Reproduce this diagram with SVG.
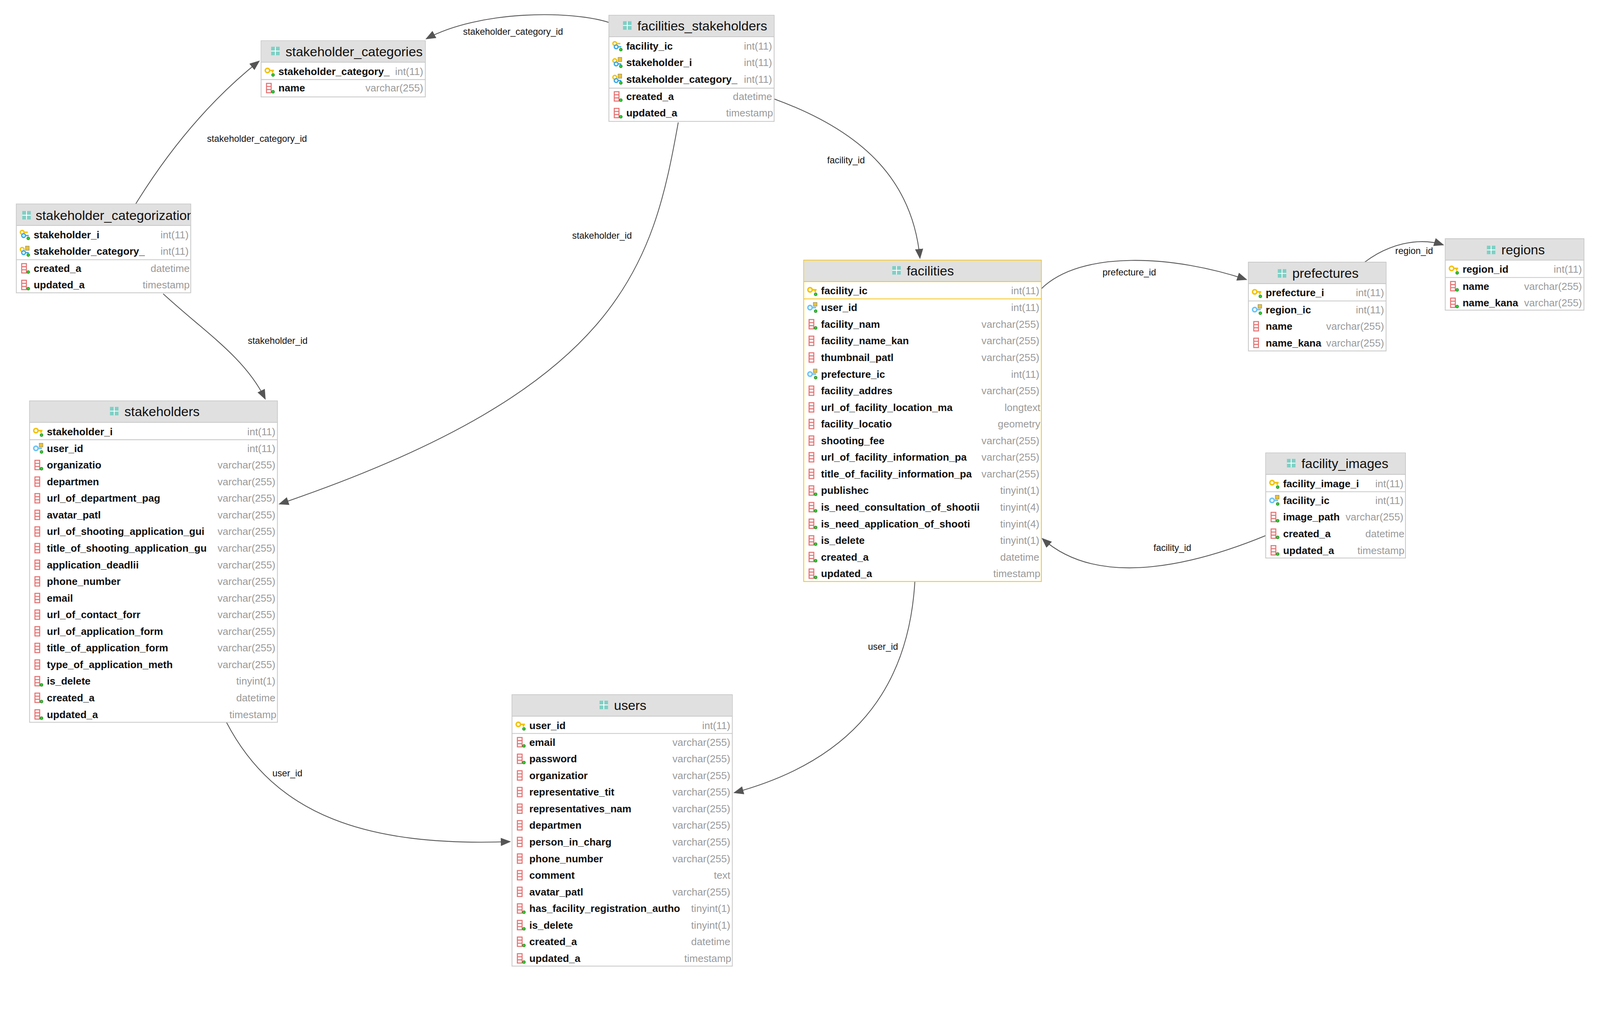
<svg xmlns="http://www.w3.org/2000/svg" xmlns:xlink="http://www.w3.org/1999/xlink" width="4246" height="2608" viewBox="0 0 4246 2608">
<style>
.n{font-family:"Liberation Sans",Arial,sans-serif;font-weight:bold;font-size:10px;fill:#111}
.t{font-family:"Liberation Sans",Arial,sans-serif;font-size:10px;fill:#9a9a9a;text-anchor:end}
.h{font-family:"Liberation Sans",Arial,sans-serif;font-size:13px;fill:#111}
.lb{font-family:"Liberation Sans",Arial,sans-serif;font-size:9px;fill:#111}
.box{fill:#fff;stroke:#c8c8c8;stroke-width:0.8}
.boxs{fill:#fff;stroke:#f5c518;stroke-width:0.8}
.hd{fill:#e0e0e0}
.dv{stroke:#c8c8c8;stroke-width:0.8}
.dvs{stroke:#f5c518;stroke-width:0.8}
.c{fill:none;stroke:#555;stroke-width:0.8}
</style>
<defs>
<marker id="ar" viewBox="0 0 10 10" refX="9" refY="5" markerWidth="10" markerHeight="10" markerUnits="userSpaceOnUse" orient="auto"><path d="M0,1 L10,5 L0,9 z" fill="#555"/></marker>
<symbol id="tb" viewBox="0 0 12 12"><rect x="1" y="1" width="10" height="10" fill="#7fcfc4"/><path d="M1,6H11M6,1V11" stroke="#fff" stroke-width="1"/></symbol>
<symbol id="pk" viewBox="0 0 12 12"><circle cx="3.5" cy="5" r="2.3" fill="none" stroke="#f2c200" stroke-width="1.6"/><path d="M5.8,5H10.5M9,5V7.5" stroke="#f2c200" stroke-width="1.6"/><circle cx="9.5" cy="9.8" r="1.6" fill="#3c3" stroke="#060" stroke-width="0.4"/></symbol>
<symbol id="fk" viewBox="0 0 12 12"><circle cx="3.5" cy="6" r="2.3" fill="none" stroke="#6cc4f4" stroke-width="1.6"/><path d="M5.8,6H10" stroke="#6cc4f4" stroke-width="1.6"/><rect x="7" y="0.5" width="4" height="4" fill="#e8c23a" stroke="#776" stroke-width="0.4"/><circle cx="9.5" cy="9.8" r="1.6" fill="#3c3" stroke="#060" stroke-width="0.4"/></symbol>
<symbol id="pf" viewBox="0 0 12 12"><circle cx="3" cy="3.5" r="2" fill="none" stroke="#f2c200" stroke-width="1.4"/><path d="M5,3.5H9" stroke="#f2c200" stroke-width="1.4"/><circle cx="4.5" cy="7" r="2" fill="none" stroke="#3aa8e8" stroke-width="1.4"/><path d="M6.5,7H10" stroke="#3aa8e8" stroke-width="1.4"/><circle cx="9.5" cy="10" r="1.6" fill="#3c3" stroke="#060" stroke-width="0.4"/></symbol>
<symbol id="pff" viewBox="0 0 12 12"><circle cx="3" cy="4" r="2" fill="none" stroke="#f2c200" stroke-width="1.4"/><circle cx="4.5" cy="7.5" r="2" fill="none" stroke="#3aa8e8" stroke-width="1.4"/><path d="M6.5,7.5H10" stroke="#3aa8e8" stroke-width="1.4"/><rect x="6.5" y="0.5" width="4" height="4.5" fill="#e8c23a" stroke="#776" stroke-width="0.4"/><circle cx="9.5" cy="10" r="1.6" fill="#3c3" stroke="#060" stroke-width="0.4"/></symbol>
<symbol id="col" viewBox="0 0 12 12"><rect x="2.5" y="1" width="5" height="10" fill="none" stroke="#e57373" stroke-width="1.1"/><path d="M2.5,4.3H7.5M2.5,7.6H7.5" stroke="#e57373" stroke-width="1.1"/></symbol>
<symbol id="cold" viewBox="0 0 12 12"><rect x="2.5" y="1" width="5" height="10" fill="none" stroke="#e57373" stroke-width="1.1"/><path d="M2.5,4.3H7.5M2.5,7.6H7.5" stroke="#e57373" stroke-width="1.1"/><circle cx="9.5" cy="10" r="1.6" fill="#3c3" stroke="#060" stroke-width="0.4"/></symbol>
<clipPath id="cc"><rect x="0" y="0" width="171" height="21"/></clipPath>
</defs>
<rect width="4246" height="2608" fill="#fff"/>
<g transform="scale(2.611)">
<g id="connectors">
<path class="c" marker-end="url(#ar)" d="M597,22 C560,10 470,10 418,38"/>
<path class="c" marker-end="url(#ar)" d="M133,200 C170,140 210,95 254,60"/>
<path class="c" marker-end="url(#ar)" d="M160,288 C200,325 240,350 260,391"/>
<path class="c" marker-end="url(#ar)" d="M665,120 C640,260 610,380 274,494"/>
<path class="c" marker-end="url(#ar)" d="M759,97 C850,130 895,180 902,253"/>
<path class="c" marker-end="url(#ar)" d="M1021,283 C1060,245 1150,250 1222,274"/>
<path class="c" marker-end="url(#ar)" d="M1338,257 C1360,240 1390,232 1415,240"/>
<path class="c" marker-end="url(#ar)" d="M1241,525 C1180,550 1080,580 1022,528"/>
<path class="c" marker-end="url(#ar)" d="M897,570 C890,690 820,750 720,777"/>
<path class="c" marker-end="url(#ar)" d="M222,708 C270,800 360,830 500,825"/>
<text class="lb" x="454" y="34">stakeholder_category_id</text>
<text class="lb" x="203" y="139">stakeholder_category_id</text>
<text class="lb" x="243" y="337">stakeholder_id</text>
<text class="lb" x="561" y="234">stakeholder_id</text>
<text class="lb" x="811" y="160">facility_id</text>
<text class="lb" x="1081" y="270">prefecture_id</text>
<text class="lb" x="1368" y="249">region_id</text>
<text class="lb" x="1131" y="540">facility_id</text>
<text class="lb" x="851" y="637">user_id</text>
<text class="lb" x="267" y="761">user_id</text>
</g>

<g id="stakeholder_categories" transform="translate(256,40)">
<rect class="box" width="161" height="55"/><rect class="hd" x="0.4" y="0.4" width="160.2" height="20.6"/>
<use href="#tb" x="9" y="5" width="10" height="10"/><text class="h" x="24" y="15">stakeholder_categories</text>
<line class="dv" x1="0" y1="21" x2="161" y2="21"/><line class="dv" x1="0" y1="38" x2="161" y2="38"/>
<use href="#pk" x="3" y="24.5" width="11" height="11"/><text class="n" x="17" y="33.5">stakeholder_category_</text><text class="t" x="159" y="33.5">int(11)</text>
<use href="#cold" x="3" y="40.8" width="11" height="11"/><text class="n" x="17" y="49.8">name</text><text class="t" x="159" y="49.8">varchar(255)</text>
</g>

<g id="facilities_stakeholders" transform="translate(597,15)">
<rect class="box" width="162" height="104"/><rect class="hd" x="0.4" y="0.4" width="161.2" height="20.6"/>
<use href="#tb" x="13" y="5" width="10" height="10"/><text class="h" x="28" y="15">facilities_stakeholders</text>
<line class="dv" x1="0" y1="21" x2="162" y2="21"/><line class="dv" x1="0" y1="71.4" x2="162" y2="71.4"/>
<use href="#pf" x="3" y="24.5" width="11" height="11"/><text class="n" x="17" y="33.5">facility_ic</text><text class="t" x="160" y="33.5">int(11)</text>
<use href="#pff" x="3" y="40.8" width="11" height="11"/><text class="n" x="17" y="49.8">stakeholder_i</text><text class="t" x="160" y="49.8">int(11)</text>
<use href="#pff" x="3" y="57.1" width="11" height="11"/><text class="n" x="17" y="66.1">stakeholder_category_</text><text class="t" x="160" y="66.1">int(11)</text>
<use href="#cold" x="3" y="74" width="11" height="11"/><text class="n" x="17" y="83">created_a</text><text class="t" x="160" y="83">datetime</text>
<use href="#cold" x="3" y="90.3" width="11" height="11"/><text class="n" x="17" y="99.3">updated_a</text><text class="t" x="161" y="99.3">timestamp</text>
</g>

<g id="stakeholder_categorization" transform="translate(16,200)">
<rect class="box" width="171" height="87"/><rect class="hd" x="0.4" y="0.4" width="170.2" height="20.6"/>
<use href="#tb" x="5" y="6" width="10" height="10"/><g clip-path="url(#cc)"><text class="h" x="19" y="15.5">stakeholder_categorization</text></g>
<line class="dv" x1="0" y1="21" x2="171" y2="21"/><line class="dv" x1="0" y1="54.6" x2="171" y2="54.6"/>
<use href="#pf" x="3" y="24.5" width="11" height="11"/><text class="n" x="17" y="33.5">stakeholder_i</text><text class="t" x="169" y="33.5">int(11)</text>
<use href="#pff" x="3" y="40.8" width="11" height="11"/><text class="n" x="17" y="49.8">stakeholder_category_</text><text class="t" x="169" y="49.8">int(11)</text>
<use href="#cold" x="3" y="57.5" width="11" height="11"/><text class="n" x="17" y="66.5">created_a</text><text class="t" x="170" y="66.5">datetime</text>
<use href="#cold" x="3" y="73.8" width="11" height="11"/><text class="n" x="17" y="82.8">updated_a</text><text class="t" x="170" y="82.8">timestamp</text>
</g>

<g id="stakeholders" transform="translate(29,393)">
<rect class="box" width="243" height="315"/><rect class="hd" x="0.4" y="0.4" width="242.2" height="20.6"/>
<use href="#tb" x="78" y="5" width="10" height="10"/><text class="h" x="93" y="15">stakeholders</text>
<line class="dv" x1="0" y1="21" x2="243" y2="21"/><line class="dv" x1="0" y1="38" x2="243" y2="38"/>
<use href="#pk" x="3" y="24.5" width="11" height="11"/><text class="n" x="17" y="33.5">stakeholder_i</text><text class="t" x="241" y="33.5">int(11)</text>
<use href="#fk" x="3" y="41" width="11" height="11"/><text class="n" x="17" y="50">user_id</text><text class="t" x="241" y="50">int(11)</text>
<use href="#cold" x="3" y="57.3" width="11" height="11"/><text class="n" x="17" y="66.3">organizatio</text><text class="t" x="241" y="66.3">varchar(255)</text>
<use href="#col" x="3" y="73.6" width="11" height="11"/><text class="n" x="17" y="82.6">departmen</text><text class="t" x="241" y="82.6">varchar(255)</text>
<use href="#col" x="3" y="89.9" width="11" height="11"/><text class="n" x="17" y="98.9">url_of_department_pag</text><text class="t" x="241" y="98.9">varchar(255)</text>
<use href="#col" x="3" y="106.2" width="11" height="11"/><text class="n" x="17" y="115.2">avatar_patl</text><text class="t" x="241" y="115.2">varchar(255)</text>
<use href="#col" x="3" y="122.5" width="11" height="11"/><text class="n" x="17" y="131.5">url_of_shooting_application_gui</text><text class="t" x="241" y="131.5">varchar(255)</text>
<use href="#col" x="3" y="138.8" width="11" height="11"/><text class="n" x="17" y="147.8">title_of_shooting_application_gu</text><text class="t" x="241" y="147.8">varchar(255)</text>
<use href="#col" x="3" y="155.1" width="11" height="11"/><text class="n" x="17" y="164.1">application_deadlii</text><text class="t" x="241" y="164.1">varchar(255)</text>
<use href="#col" x="3" y="171.4" width="11" height="11"/><text class="n" x="17" y="180.4">phone_number</text><text class="t" x="241" y="180.4">varchar(255)</text>
<use href="#col" x="3" y="187.7" width="11" height="11"/><text class="n" x="17" y="196.7">email</text><text class="t" x="241" y="196.7">varchar(255)</text>
<use href="#col" x="3" y="204" width="11" height="11"/><text class="n" x="17" y="213">url_of_contact_forr</text><text class="t" x="241" y="213">varchar(255)</text>
<use href="#col" x="3" y="220.3" width="11" height="11"/><text class="n" x="17" y="229.3">url_of_application_form</text><text class="t" x="241" y="229.3">varchar(255)</text>
<use href="#col" x="3" y="236.6" width="11" height="11"/><text class="n" x="17" y="245.6">title_of_application_form</text><text class="t" x="241" y="245.6">varchar(255)</text>
<use href="#col" x="3" y="252.9" width="11" height="11"/><text class="n" x="17" y="261.9">type_of_application_meth</text><text class="t" x="241" y="261.9">varchar(255)</text>
<use href="#cold" x="3" y="269.2" width="11" height="11"/><text class="n" x="17" y="278.2">is_delete</text><text class="t" x="241" y="278.2">tinyint(1)</text>
<use href="#cold" x="3" y="285.5" width="11" height="11"/><text class="n" x="17" y="294.5">created_a</text><text class="t" x="241" y="294.5">datetime</text>
<use href="#cold" x="3" y="301.8" width="11" height="11"/><text class="n" x="17" y="310.8">updated_a</text><text class="t" x="242" y="310.8">timestamp</text>
</g>

<g id="facilities" transform="translate(788,255)">
<rect class="boxs" width="233" height="315"/><rect class="hd" x="0.4" y="0.4" width="232.2" height="20.6"/>
<use href="#tb" x="86" y="5" width="10" height="10"/><text class="h" x="101" y="15">facilities</text>
<line class="dvs" x1="0" y1="21" x2="233" y2="21"/><line class="dvs" x1="0" y1="38" x2="233" y2="38"/>
<use href="#pk" x="3" y="24.5" width="11" height="11"/><text class="n" x="17" y="33.5">facility_ic</text><text class="t" x="231" y="33.5">int(11)</text>
<use href="#fk" x="3" y="41" width="11" height="11"/><text class="n" x="17" y="50">user_id</text><text class="t" x="231" y="50">int(11)</text>
<use href="#cold" x="3" y="57.3" width="11" height="11"/><text class="n" x="17" y="66.3">facility_nam</text><text class="t" x="231" y="66.3">varchar(255)</text>
<use href="#col" x="3" y="73.6" width="11" height="11"/><text class="n" x="17" y="82.6">facility_name_kan</text><text class="t" x="231" y="82.6">varchar(255)</text>
<use href="#col" x="3" y="89.9" width="11" height="11"/><text class="n" x="17" y="98.9">thumbnail_patl</text><text class="t" x="231" y="98.9">varchar(255)</text>
<use href="#fk" x="3" y="106.2" width="11" height="11"/><text class="n" x="17" y="115.2">prefecture_ic</text><text class="t" x="231" y="115.2">int(11)</text>
<use href="#col" x="3" y="122.5" width="11" height="11"/><text class="n" x="17" y="131.5">facility_addres</text><text class="t" x="231" y="131.5">varchar(255)</text>
<use href="#col" x="3" y="138.8" width="11" height="11"/><text class="n" x="17" y="147.8">url_of_facility_location_ma</text><text class="t" x="232" y="147.8">longtext</text>
<use href="#col" x="3" y="155.1" width="11" height="11"/><text class="n" x="17" y="164.1">facility_locatio</text><text class="t" x="232" y="164.1">geometry</text>
<use href="#col" x="3" y="171.4" width="11" height="11"/><text class="n" x="17" y="180.4">shooting_fee</text><text class="t" x="231" y="180.4">varchar(255)</text>
<use href="#col" x="3" y="187.7" width="11" height="11"/><text class="n" x="17" y="196.7">url_of_facility_information_pa</text><text class="t" x="231" y="196.7">varchar(255)</text>
<use href="#col" x="3" y="204" width="11" height="11"/><text class="n" x="17" y="213">title_of_facility_information_pa</text><text class="t" x="231" y="213">varchar(255)</text>
<use href="#cold" x="3" y="220.3" width="11" height="11"/><text class="n" x="17" y="229.3">publishec</text><text class="t" x="231" y="229.3">tinyint(1)</text>
<use href="#cold" x="3" y="236.6" width="11" height="11"/><text class="n" x="17" y="245.6">is_need_consultation_of_shootii</text><text class="t" x="231" y="245.6">tinyint(4)</text>
<use href="#cold" x="3" y="252.9" width="11" height="11"/><text class="n" x="17" y="261.9">is_need_application_of_shooti</text><text class="t" x="231" y="261.9">tinyint(4)</text>
<use href="#cold" x="3" y="269.2" width="11" height="11"/><text class="n" x="17" y="278.2">is_delete</text><text class="t" x="231" y="278.2">tinyint(1)</text>
<use href="#cold" x="3" y="285.5" width="11" height="11"/><text class="n" x="17" y="294.5">created_a</text><text class="t" x="231" y="294.5">datetime</text>
<use href="#cold" x="3" y="301.8" width="11" height="11"/><text class="n" x="17" y="310.8">updated_a</text><text class="t" x="232" y="310.8">timestamp</text>
</g>

<g id="prefectures" transform="translate(1224,257)">
<rect class="box" width="135" height="87"/><rect class="hd" x="0.4" y="0.4" width="134.2" height="20.6"/>
<use href="#tb" x="28" y="6" width="10" height="10"/><text class="h" x="43" y="15.5">prefectures</text>
<line class="dv" x1="0" y1="21" x2="135" y2="21"/><line class="dv" x1="0" y1="38" x2="135" y2="38"/>
<use href="#pk" x="3" y="24.5" width="11" height="11"/><text class="n" x="17" y="33.5">prefecture_i</text><text class="t" x="133" y="33.5">int(11)</text>
<use href="#fk" x="3" y="41" width="11" height="11"/><text class="n" x="17" y="50">region_ic</text><text class="t" x="133" y="50">int(11)</text>
<use href="#col" x="3" y="57.3" width="11" height="11"/><text class="n" x="17" y="66.3">name</text><text class="t" x="133" y="66.3">varchar(255)</text>
<use href="#col" x="3" y="73.6" width="11" height="11"/><text class="n" x="17" y="82.6">name_kana</text><text class="t" x="133" y="82.6">varchar(255)</text>
</g>

<g id="regions" transform="translate(1417,234)">
<rect class="box" width="136" height="70"/><rect class="hd" x="0.4" y="0.4" width="135.2" height="20.6"/>
<use href="#tb" x="40" y="6" width="10" height="10"/><text class="h" x="55" y="15.5">regions</text>
<line class="dv" x1="0" y1="21" x2="136" y2="21"/><line class="dv" x1="0" y1="38" x2="136" y2="38"/>
<use href="#pk" x="3" y="24.5" width="11" height="11"/><text class="n" x="17" y="33.5">region_id</text><text class="t" x="134" y="33.5">int(11)</text>
<use href="#cold" x="3" y="41" width="11" height="11"/><text class="n" x="17" y="50">name</text><text class="t" x="134" y="50">varchar(255)</text>
<use href="#cold" x="3" y="57.3" width="11" height="11"/><text class="n" x="17" y="66.3">name_kana</text><text class="t" x="134" y="66.3">varchar(255)</text>
</g>

<g id="facility_images" transform="translate(1241,444)">
<rect class="box" width="137" height="103"/><rect class="hd" x="0.4" y="0.4" width="136.2" height="20.6"/>
<use href="#tb" x="20" y="5" width="10" height="10"/><text class="h" x="35" y="15">facility_images</text>
<line class="dv" x1="0" y1="21" x2="137" y2="21"/><line class="dv" x1="0" y1="38" x2="137" y2="38"/>
<use href="#pk" x="3" y="24.5" width="11" height="11"/><text class="n" x="17" y="33.5">facility_image_i</text><text class="t" x="135" y="33.5">int(11)</text>
<use href="#fk" x="3" y="41" width="11" height="11"/><text class="n" x="17" y="50">facility_ic</text><text class="t" x="135" y="50">int(11)</text>
<use href="#cold" x="3" y="57.3" width="11" height="11"/><text class="n" x="17" y="66.3">image_path</text><text class="t" x="135" y="66.3">varchar(255)</text>
<use href="#cold" x="3" y="73.6" width="11" height="11"/><text class="n" x="17" y="82.6">created_a</text><text class="t" x="136" y="82.6">datetime</text>
<use href="#cold" x="3" y="89.9" width="11" height="11"/><text class="n" x="17" y="98.9">updated_a</text><text class="t" x="136" y="98.9">timestamp</text>
</g>

<g id="users" transform="translate(502,681)">
<rect class="box" width="216" height="266"/><rect class="hd" x="0.4" y="0.4" width="215.2" height="20.6"/>
<use href="#tb" x="85" y="5" width="10" height="10"/><text class="h" x="100" y="15">users</text>
<line class="dv" x1="0" y1="21" x2="216" y2="21"/><line class="dv" x1="0" y1="38" x2="216" y2="38"/>
<use href="#pk" x="3" y="24.5" width="11" height="11"/><text class="n" x="17" y="33.5">user_id</text><text class="t" x="214" y="33.5">int(11)</text>
<use href="#cold" x="3" y="41" width="11" height="11"/><text class="n" x="17" y="50">email</text><text class="t" x="214" y="50">varchar(255)</text>
<use href="#cold" x="3" y="57.3" width="11" height="11"/><text class="n" x="17" y="66.3">password</text><text class="t" x="214" y="66.3">varchar(255)</text>
<use href="#col" x="3" y="73.6" width="11" height="11"/><text class="n" x="17" y="82.6">organizatior</text><text class="t" x="214" y="82.6">varchar(255)</text>
<use href="#col" x="3" y="89.9" width="11" height="11"/><text class="n" x="17" y="98.9">representative_tit</text><text class="t" x="214" y="98.9">varchar(255)</text>
<use href="#col" x="3" y="106.2" width="11" height="11"/><text class="n" x="17" y="115.2">representatives_nam</text><text class="t" x="214" y="115.2">varchar(255)</text>
<use href="#col" x="3" y="122.5" width="11" height="11"/><text class="n" x="17" y="131.5">departmen</text><text class="t" x="214" y="131.5">varchar(255)</text>
<use href="#col" x="3" y="138.8" width="11" height="11"/><text class="n" x="17" y="147.8">person_in_charg</text><text class="t" x="214" y="147.8">varchar(255)</text>
<use href="#col" x="3" y="155.1" width="11" height="11"/><text class="n" x="17" y="164.1">phone_number</text><text class="t" x="214" y="164.1">varchar(255)</text>
<use href="#col" x="3" y="171.4" width="11" height="11"/><text class="n" x="17" y="180.4">comment</text><text class="t" x="214" y="180.4">text</text>
<use href="#col" x="3" y="187.7" width="11" height="11"/><text class="n" x="17" y="196.7">avatar_patl</text><text class="t" x="214" y="196.7">varchar(255)</text>
<use href="#cold" x="3" y="204" width="11" height="11"/><text class="n" x="17" y="213">has_facility_registration_autho</text><text class="t" x="214" y="213">tinyint(1)</text>
<use href="#cold" x="3" y="220.3" width="11" height="11"/><text class="n" x="17" y="229.3">is_delete</text><text class="t" x="214" y="229.3">tinyint(1)</text>
<use href="#cold" x="3" y="236.6" width="11" height="11"/><text class="n" x="17" y="245.6">created_a</text><text class="t" x="214" y="245.6">datetime</text>
<use href="#cold" x="3" y="252.9" width="11" height="11"/><text class="n" x="17" y="261.9">updated_a</text><text class="t" x="215" y="261.9">timestamp</text>
</g>
</g>
</svg>
